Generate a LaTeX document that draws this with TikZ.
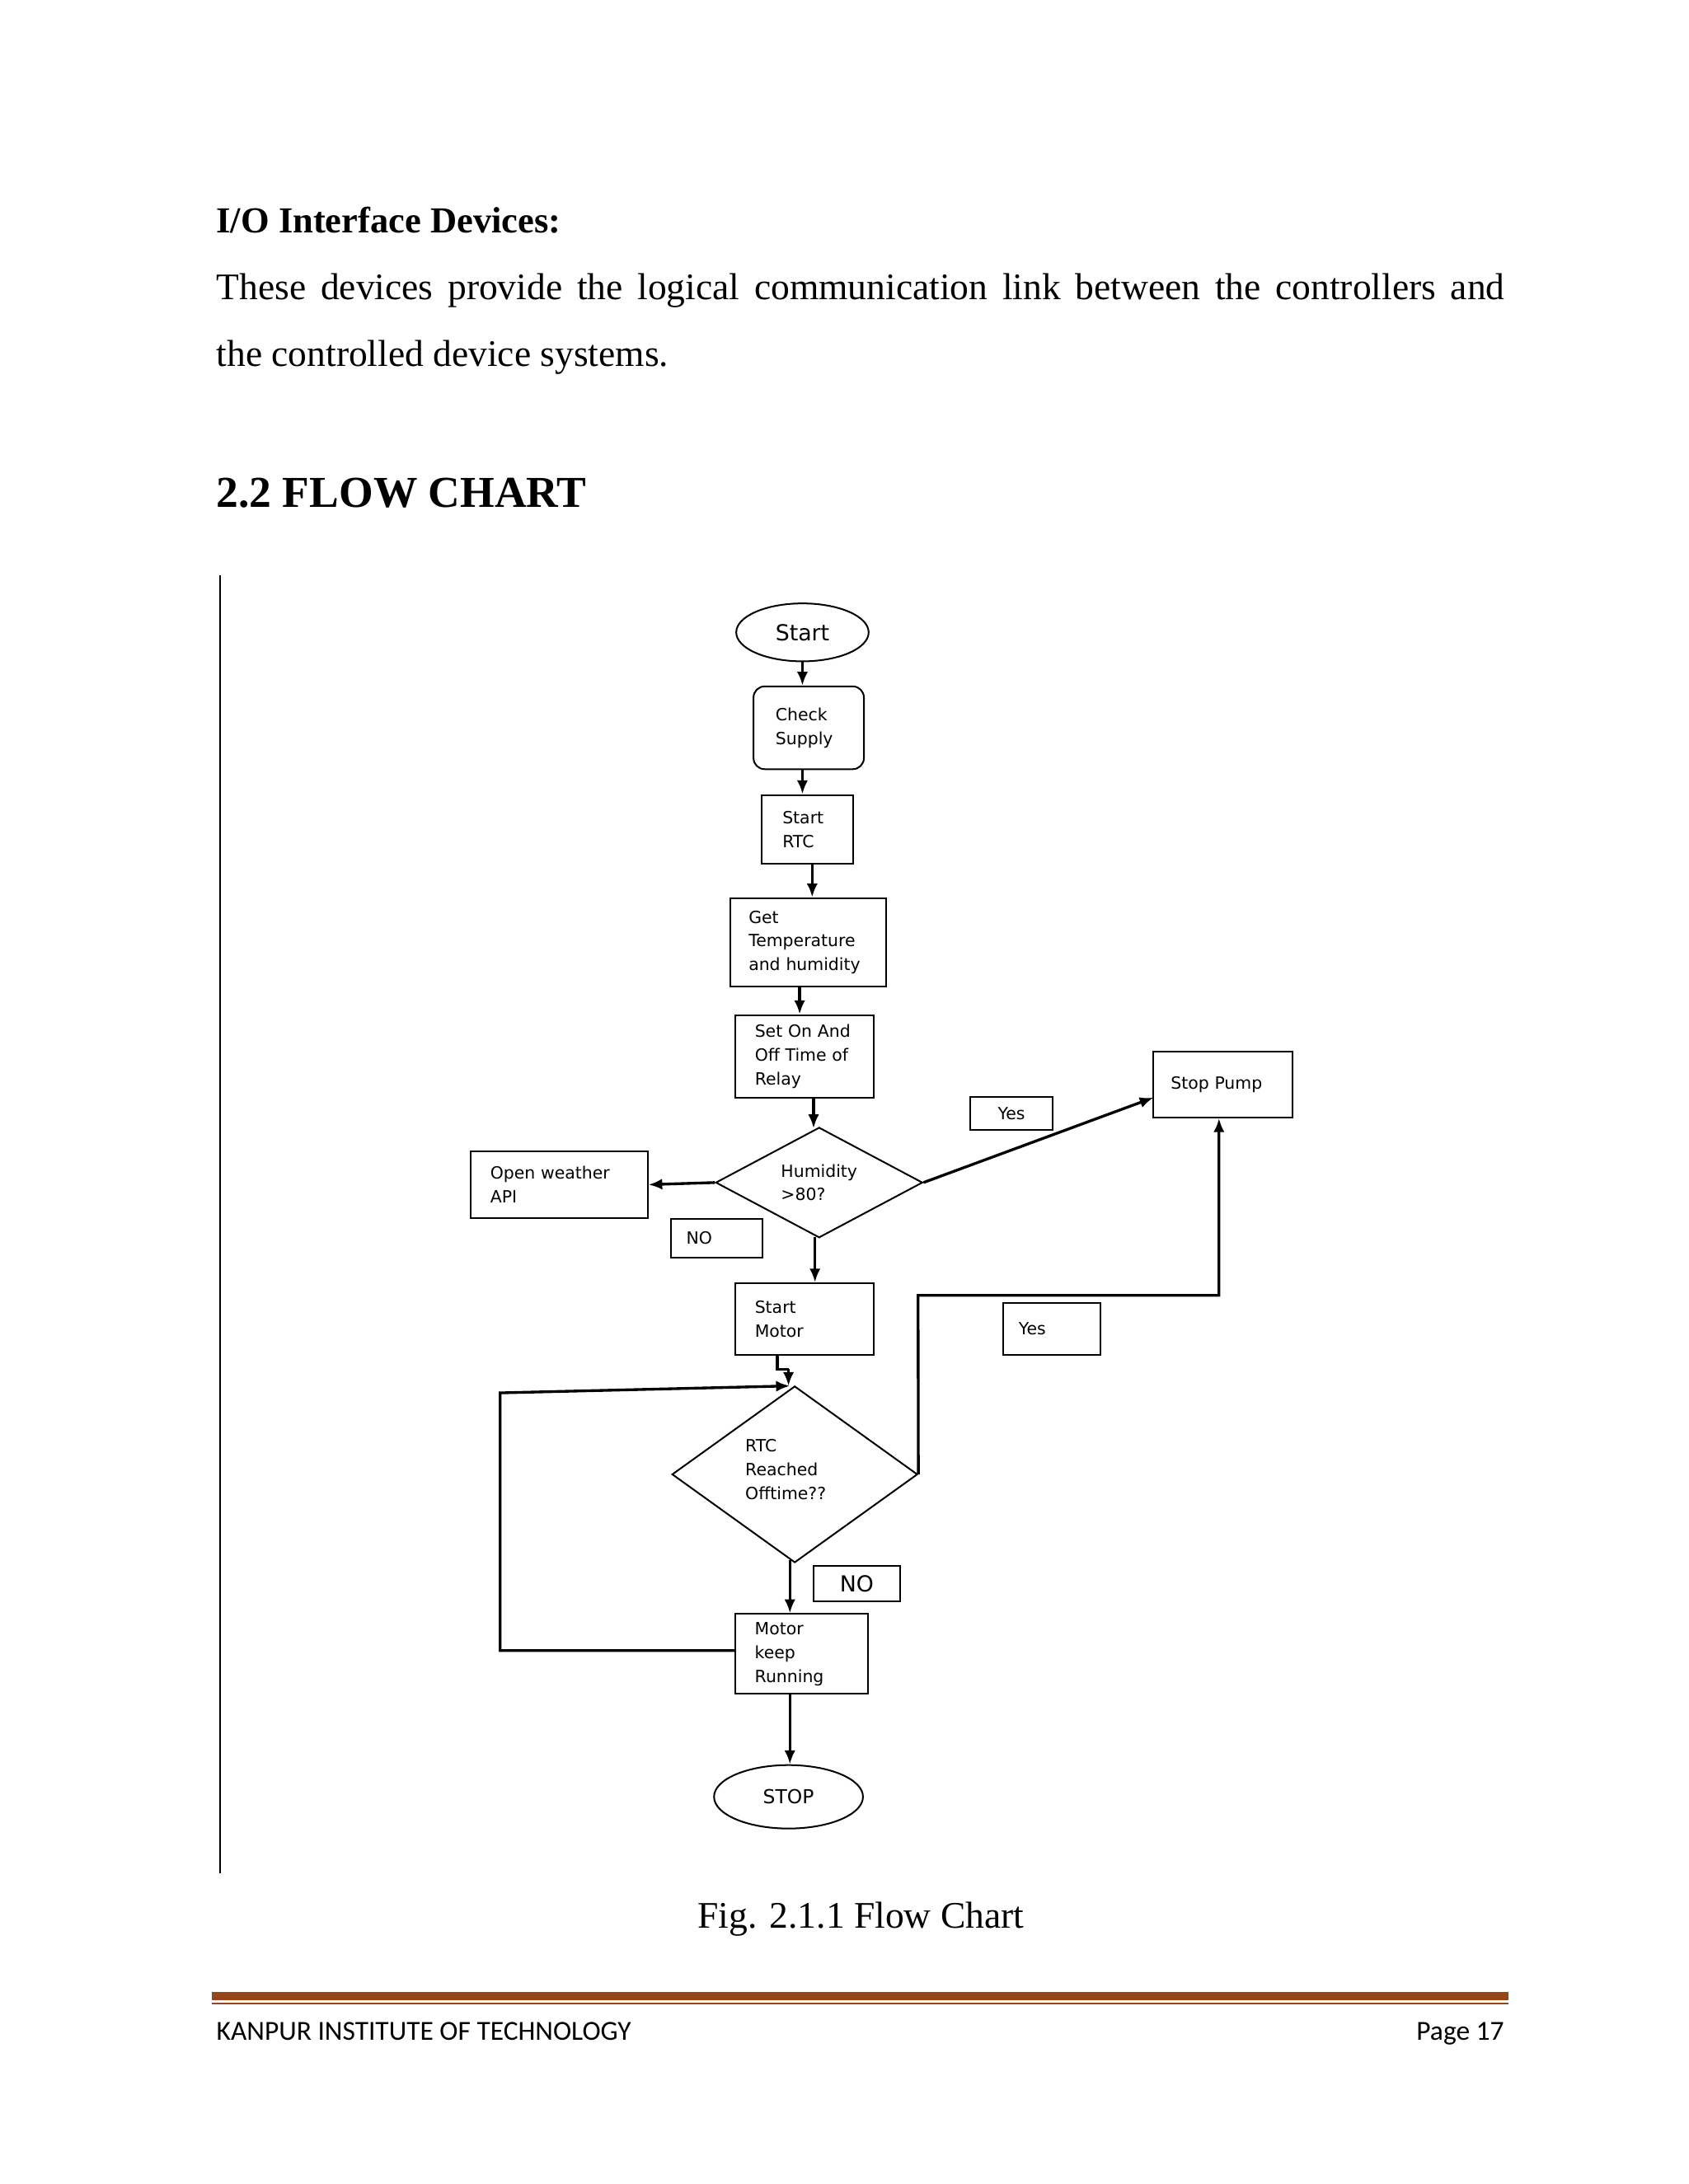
\documentclass[tikz,border=0pt]{standalone}
\usepackage{fontspec}
\setmainfont{Liberation Serif}
\newfontfamily\fc{DejaVu Sans}
\newfontfamily\ft{Carlito}
\usetikzlibrary{arrows.meta,shapes.geometric}
\begin{document}
\begin{tikzpicture}[x=0.505pt,y=-0.505pt,
 bx/.style={draw,line width=0.6pt,inner sep=0pt,font=\fc\fontsize{6.1}{8.6}\selectfont,align=left},
 ar/.style={line width=1pt,-{Latex[length=5pt,width=4pt]}},
 ln/.style={line width=1pt}]
\useasboundingbox (0,0) rectangle (1212,1568);
\node[anchor=base west,font=\bfseries\fontsize{13.3}{15}\selectfont,inner sep=0pt] (h1) at (155,167) {I/O Interface Devices:};
\node[anchor=base west,font=\fontsize{13.6}{15}\selectfont,inner sep=0pt] (p1) at (155,215) {\hbox to 467pt{These devices provide the logical communication link between the controllers and}};
\node[anchor=base west,font=\fontsize{13.6}{15}\selectfont,inner sep=0pt] (p2) at (155,263) {the controlled device systems.};
\node[anchor=base west,font=\bfseries\fontsize{16}{18}\selectfont,inner sep=0pt] (h2) at (155,364) {2.2 FLOW CHART};
\draw[line width=0.8pt] (158,413) -- (158,1345);
% nodes
\node[draw,ellipse,line width=0.6pt,inner sep=0pt,minimum width=48pt,minimum height=21pt,font=\fc\fontsize{8}{10}\selectfont] (start) at (576,454) {Start};
\node[bx,rounded corners=4pt,minimum width=40pt,minimum height=30pt,text width=24pt] (check) at (580.5,522.5) {Check\\ Supply\\[4pt]};
\node[bx,minimum width=33pt,minimum height=25pt,text width=18pt] (rtc) at (579.5,595.5) {Start\\ RTC\\[3pt]};
\node[bx,minimum width=56.5pt,minimum height=32pt,text width=43pt] (get) at (580,676.5) {Get\\ Temperature\\ and humidity};
\node[bx,minimum width=50pt,minimum height=30pt,text width=36pt] (set) at (577.5,758.5) {Set On And\\ Off Time of\\ Relay};
\node[bx,minimum width=50.5pt,minimum height=24pt,text width=38pt] (pump) at (878,778.5) {Stop Pump\\[8pt]};
\node[bx,minimum width=30pt,minimum height=12pt] (yes1) at (726,799.5) {Yes};
\node[draw,diamond,aspect=1.9,line width=0.6pt,inner sep=0pt,minimum width=75pt,minimum height=40pt] (hum) at (588,849) {};
\node[font=\fc\fontsize{6.1}{8.6}\selectfont,align=left] (humt) at (588,849) {Humidity\\ >80?};
\node[bx,minimum width=64pt,minimum height=24pt,text width=50pt] (api) at (401.5,850.5) {Open weather\\ API\\[4pt]};
\node[bx,minimum width=33pt,minimum height=14pt,text width=22pt] (no1) at (514.5,889) {NO};
\node[bx,minimum width=50pt,minimum height=26pt,text width=36pt] (motor) at (577.5,947) {Start\\ Motor\\[6pt]};
\node[bx,minimum width=35.5pt,minimum height=19pt,text width=24pt] (yes2) at (755,954) {Yes\\[8pt]};
\node[draw,diamond,aspect=1.4,line width=0.6pt,inner sep=0pt,minimum width=89pt,minimum height=64pt] (off) at (570.5,1058.5) {};
\node[font=\fc\fontsize{6.1}{8.6}\selectfont,align=left] (offt) at (564,1055) {RTC\\ Reached\\ Offtime??};
\node[bx,minimum width=31.5pt,minimum height=13pt,font=\fc\fontsize{8}{9}\selectfont] (no2) at (615,1137) {NO};
\node[bx,minimum width=48pt,minimum height=29pt,text width=34pt] (keep) at (575.5,1187.5) {Motor\\ keep\\ Running};
\node[draw,ellipse,line width=0.6pt,inner sep=0pt,minimum width=54pt,minimum height=23pt,font=\fc\fontsize{7}{9}\selectfont] (stop) at (566,1290) {STOP};
% connectors
\draw[ar] (start.south -| 576,0) -- (check.north -| 576,0);
\draw[ar] (check.south -| 576,0) -- (rtc.north -| 576,0);
\draw[ar] (rtc.south -| 583,0) -- (get.north -| 583,0);
\draw[ar] (get.south -| 574,0) -- (set.north -| 574,0);
\draw[ar] (set.south -| 584,0) -- (584,810);
\draw[ar] (hum.west) -- (api.east);
\draw[ar] (hum.east) -- (828,788);
\draw[ar] (585,888) -- (motor.north -| 585,0);
\draw[ln] (motor.south -| 558,0) -- (558,983) -- (566,983);
\draw[ar] (566,983) -- (566,995);
\draw[ar] (off.east) -- (659,930) -- (875,930) -- (pump.south -| 875,0);
\draw[ar] (567,1120) -- (keep.north -| 567,0);
\draw[ar] (keep.west |- 0,1185) -- (359,1185) -- (359,1000) -- (567,995);
\draw[ar] (keep.south -| 567,0) -- (stop.north -| 567,0);
\node[font=\fontsize{13.6}{15}\selectfont] (cap) at (618,1378) {Fig. 2.1.1 Flow Chart};
\draw[line width=3pt,color={rgb,255:red,148;green,72;blue,25}] (152,1433) -- (1083,1433);
\draw[line width=0.6pt,color={rgb,255:red,148;green,72;blue,25}] (152,1438.5) -- (1083,1438.5);
\node[anchor=base west,font=\ft\fontsize{10}{12}\selectfont,inner sep=0pt] (f1) at (155,1465) {KANPUR INSTITUTE OF TECHNOLOGY};
\node[anchor=base east,font=\ft\fontsize{10}{12}\selectfont,inner sep=0pt] (f2) at (1080,1465) {Page 17};
\end{tikzpicture}
\end{document}
